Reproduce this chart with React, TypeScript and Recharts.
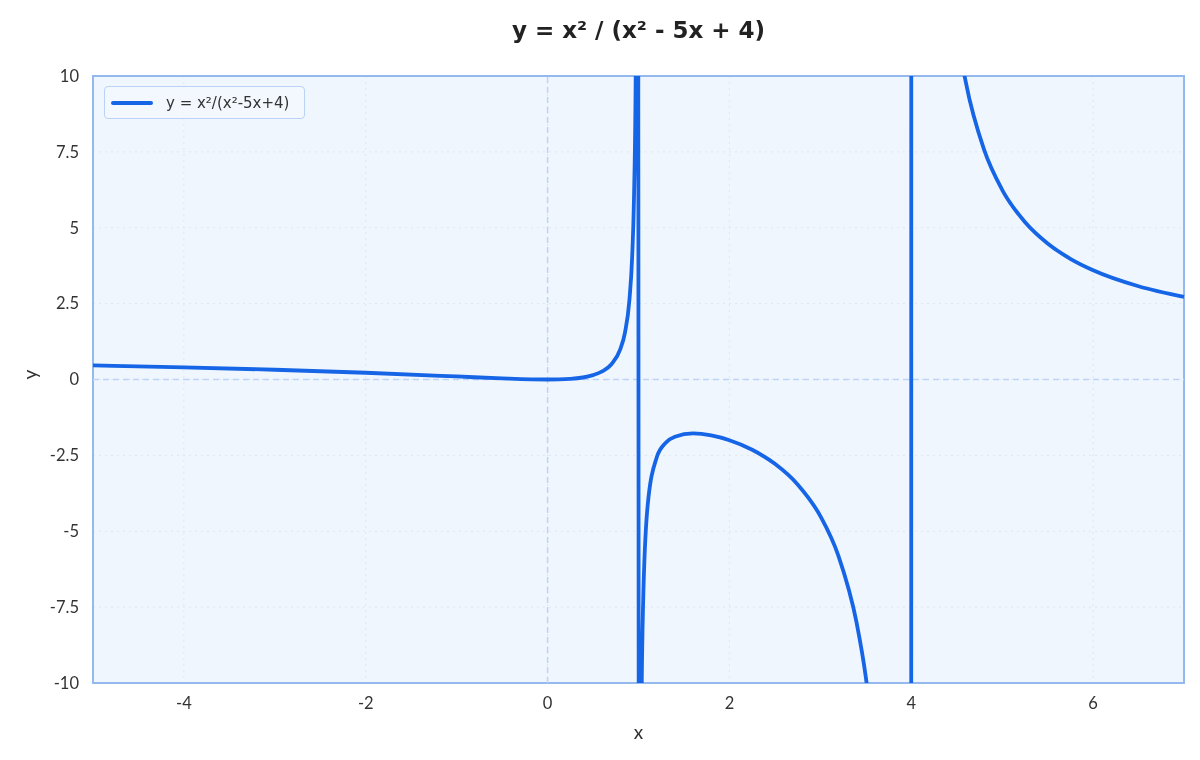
import { LineChart, Line, XAxis, YAxis, CartesianGrid, ReferenceLine, ReferenceArea } from 'recharts';

// values, y = x²/(x²-5x+4)
const xValues = [
  -5, -4, -3, -2, -1, -0.5, 0, 0.25, 0.5, 0.6, 0.7, 0.8, 0.85, 0.9, 0.93, 0.95, 0.97, 0.98, 0.99,
  1.01, 1.02, 1.03, 1.05, 1.1, 1.2, 1.3, 1.4, 1.6, 1.8, 2, 2.25, 2.5, 2.75, 3, 3.2, 3.4, 3.5, 3.6, 3.8, 3.99,
  4.01, 4.2, 4.5, 4.6, 4.8, 5, 5.25, 5.5, 5.75, 6, 6.5, 7,
];
const yValues = [
  0.463, 0.4, 0.321, 0.222, 0.1, 0.037, 0, 0.022, 0.143, 0.265, 0.495, 1.0, 1.529, 2.613, 4.025, 5.918, 10.35, 15.9, 32.56,
  -34.1, -17.46, -11.9, -7.47, -4.17, -2.571, -2.086, -1.885, -1.778, -1.841, -2, -2.314, -2.778, -3.457, -4.5, -5.818, -8.03, -9.8, -12.46, -25.8, -532,
  534, 27.56, 11.57, 9.796, 7.579, 6.25, 5.188, 4.481, 3.977, 3.6, 3.073, 2.722,
];
const xTicks = [-4, -2, 0, 2, 4, 6];
const yTicks = [-10, -7.5, -5, -2.5, 0, 2.5, 5, 7.5, 10];
const seriesName = 'y = x²/(x²-5x+4)';
const title = 'y = x² / (x² - 5x + 4)';

const data = xValues.map((x, i) => ({ x, y: yValues[i] }));

const LINE = '#1565e6';
const FONT = 'Lato, "DejaVu Sans", sans-serif';

export default function App() {
  return (
    <div style={{ position: 'fixed', left: 0, top: 0, width: 1200, height: 760, background: '#fff', fontFamily: FONT }}>
      <div
        style={{
          position: 'absolute',
          top: 17,
          left: 0,
          width: 1277,
          textAlign: 'center',
          fontFamily: '"DejaVu Sans", sans-serif',
          fontWeight: 700,
          fontSize: 23,
          color: '#222',
        }}
      >
        {title}
      </div>
      <LineChart width={1200} height={760} data={data} margin={{ top: 76, right: 16, bottom: 0, left: 0 }}>
        <CartesianGrid fill="#f0f6fd" stroke="#dde6f2" strokeDasharray="2 4" />
        <XAxis
          dataKey="x"
          type="number"
          domain={[-5, 7]}
          ticks={xTicks}
          height={77}
          axisLine={false}
          tickLine={false}
          tick={{ fill: '#333', fontSize: 16.5, fontFamily: FONT }}
          tickMargin={8}
          label={{ value: 'x', position: 'insideBottom', offset: 21, fill: '#333', fontSize: 19, fontFamily: FONT }}
        />
        <YAxis
          type="number"
          domain={[-10, 10]}
          ticks={yTicks}
          allowDataOverflow
          width={93}
          axisLine={false}
          tickLine={false}
          tick={{ fill: '#333', fontSize: 16.5, fontFamily: FONT }}
          tickMargin={8}
          label={{ value: 'y', angle: -90, position: 'insideLeft', offset: 30, fill: '#333', fontSize: 19, fontFamily: FONT }}
        />
        <ReferenceLine x={0} stroke="#bcd4f6" strokeWidth={1.5} strokeDasharray="6 4" />
        <ReferenceLine y={0} stroke="#bcd4f6" strokeWidth={1.5} strokeDasharray="6 4" />
        <Line
          type="monotone"
          dataKey="y"
          name={seriesName}
          stroke={LINE}
          strokeWidth={3.8}
          dot={false}
          activeDot={false}
          isAnimationActive={false}
        />
        <ReferenceArea x1={-5} x2={7} y1={-10} y2={10} fill="none" stroke="#93b9ef" strokeWidth={2} />
      </LineChart>
      <div
        style={{
          position: 'absolute',
          left: 104,
          top: 86,
          width: 201,
          height: 33,
          border: '1.5px solid #b9d2f5',
          borderRadius: 4,
          background: 'rgba(242,247,254,0.92)',
          display: 'flex',
          alignItems: 'center',
          boxSizing: 'border-box',
        }}
      >
        <div style={{ width: 42, height: 4, background: LINE, borderRadius: 2, marginLeft: 6 }} />
        <span style={{ marginLeft: 13, fontSize: 15, color: '#333', fontFamily: '"DejaVu Sans", sans-serif', whiteSpace: 'nowrap' }}>
          {seriesName}
        </span>
      </div>
    </div>
  );
}
